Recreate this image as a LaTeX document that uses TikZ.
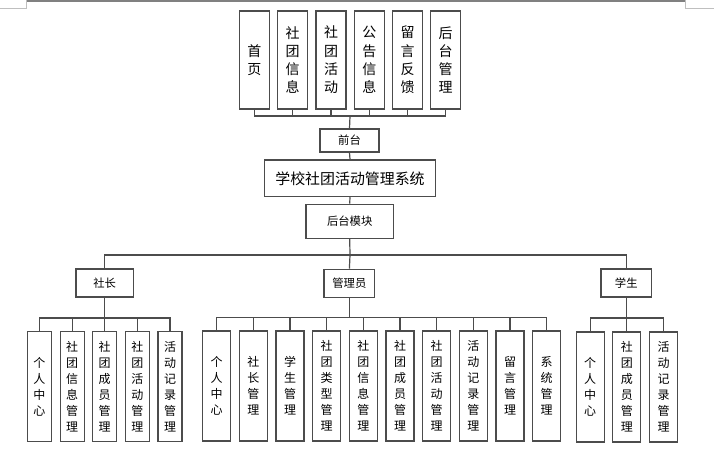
\documentclass[tikz,border=0pt]{standalone}
\usepackage{fontspec}
\usepackage{tikz}
\usetikzlibrary{calc}
\newfontfamily\cjk{Noto Sans CJK SC}

\tikzset{
	box/.style={draw=black!70, line width=0.9pt, fill=white, inner sep=0pt, align=center},
	topbox/.style={box, minimum width=22.5pt, minimum height=73.5pt, font=\cjk\fontsize{10.5}{13.7}\selectfont},
	subbox/.style={box, minimum height=82.5pt, font=\cjk\fontsize{9}{12}\selectfont},
	smallbox/.style={box, minimum height=21pt, font=\cjk\fontsize{8.5}{10}\selectfont},
	link/.style={draw=black!70, line width=0.9pt},
}

\begin{document}
\begin{tikzpicture}[x=0.75pt, y=-0.75pt]
	\useasboundingbox (0,0) rectangle (714,449);
	
	% page marks
	\draw[black!50, line width=1pt] (27,1) -- (686,1);
	\draw[black!25, line width=0.75pt] (0,8.5) -- (26.5,8.5) -- (26.5,0);
	\draw[black!25, line width=0.75pt] (714,8.5) -- (685.5,8.5) -- (685.5,0);
	
	% front pages
	\node[topbox] (f1) at (254.3,60) {首\\页};
	\node[topbox] (f2) at (292.7,60) {社\\团\\信\\息};
	\node[topbox] (f3) at (331,60) {社\\团\\活\\动};
	\node[topbox] (f4) at (369.3,60) {公\\告\\信\\息};
	\node[topbox] (f5) at (407.5,60) {留\\言\\反\\馈};
	\node[topbox] (f6) at (445.7,60) {后\\台\\管\\理};
	
	% main column
	\node[smallbox, minimum width=44.25pt, minimum height=17.25pt] (qt) at (349.5,140.5) {前台};
	\node[box, minimum width=128.8pt, minimum height=27.5pt, font=\cjk\fontsize{11.2}{13}\selectfont] (sys) at (350,178.3) {学校社团活动管理系统};
	\node[smallbox, minimum width=65.5pt, minimum height=25.5pt] (ht) at (349.7,221.3) {后台模块};
	
	% roles
	\node[smallbox, minimum width=43pt] (sz) at (104.7,283) {社长};
	\node[smallbox, minimum width=38pt] (gly) at (349.4,283.3) {管理员};
	\node[smallbox, minimum width=38pt] (xs) at (626.3,283) {学生};
	
	% president pages
	\node[subbox, minimum width=18pt] (s1) at (39.5,386.7) {个\\人\\中\\心};
	\node[subbox, minimum width=18pt] (s2) at (72.1,386.7) {社\\团\\信\\息\\管\\理};
	\node[subbox, minimum width=18pt] (s3) at (104.7,386.7) {社\\团\\成\\员\\管\\理};
	\node[subbox, minimum width=18pt] (s4) at (137.3,386.7) {社\\团\\活\\动\\管\\理};
	\node[subbox, minimum width=18pt] (s5) at (170,386.7) {活\\动\\记\\录\\管\\理};
	
	% admin pages
	\node[subbox, minimum width=21pt] (a1) at (216.7,386) {个\\人\\中\\心};
	\node[subbox, minimum width=21pt] (a2) at (253.3,386) {社\\长\\管\\理};
	\node[subbox, minimum width=21pt] (a3) at (290,386) {学\\生\\管\\理};
	\node[subbox, minimum width=21pt] (a4) at (326.7,386) {社\\团\\类\\型\\管\\理};
	\node[subbox, minimum width=21pt] (a5) at (363.3,386) {社\\团\\信\\息\\管\\理};
	\node[subbox, minimum width=21pt] (a6) at (400,386) {社\\团\\成\\员\\管\\理};
	\node[subbox, minimum width=21pt] (a7) at (436.7,386) {社\\团\\活\\动\\管\\理};
	\node[subbox, minimum width=21pt] (a8) at (473.3,386) {活\\动\\记\\录\\管\\理};
	\node[subbox, minimum width=21pt] (a9) at (510,386) {留\\言\\管\\理};
	\node[subbox, minimum width=21pt] (a10) at (546.7,386) {系\\统\\管\\理};
	
	% student pages
	\node[subbox, minimum width=21pt] (x1) at (590.2,387) {个\\人\\中\\心};
	\node[subbox, minimum width=21pt] (x2) at (626.8,387) {社\\团\\成\\员\\管\\理};
	\node[subbox, minimum width=21pt] (x3) at (663.5,387) {活\\动\\记\\录\\管\\理};
	
	% bus points
	\coordinate (tb) at (350,116);
	\coordinate (mb) at (350,255);
	\coordinate (sb) at (104.7,318);
	\coordinate (ab) at (349.4,317.5);
	\coordinate (xb) at (626.3,318);
	
	% connectors
	\foreach \i in {1,...,6} \draw[link] (f\i.south) |- (tb);
	\draw[link] (tb) -- (qt.north);
	\draw[link] (qt.south) -- (sys.north);
	\draw[link] (sys.south) -- (ht.north);
	\draw[link] (ht.south) -- (mb);
	\draw[link] (sz.north) |- (mb);
	\draw[link] (xs.north) |- (mb);
	\draw[link] (mb) -- (gly.north);
	
	\draw[link] (sz.south) -- (sb);
	\foreach \i in {1,...,5} \draw[link] (s\i.north) |- (sb);
	\draw[link] (gly.south) -- (ab);
	\foreach \i in {1,...,10} \draw[link] (a\i.north) |- (ab);
	\draw[link] (xs.south) -- (xb);
	\foreach \i in {1,...,3} \draw[link] (x\i.north) |- (xb);
\end{tikzpicture}
\end{document}
